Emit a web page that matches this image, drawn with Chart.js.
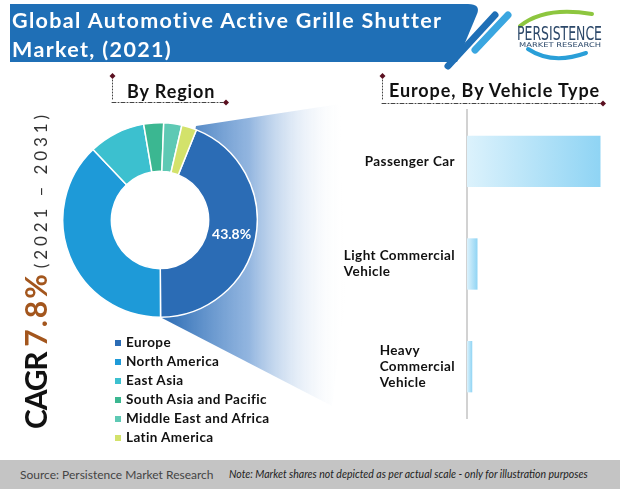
<!DOCTYPE html>
<html>
<head>
<meta charset="utf-8">
<script src="https://cdn.jsdelivr.net/npm/chart.js@4/dist/chart.umd.min.js"></script>
<style>
  html, body { margin:0; padding:0; background:#fff; }
  #root { position:relative; width:620px; height:489px; overflow:hidden; background:#fff; font-family: Lato, "Open Sans", sans-serif; }
  #bg { position:absolute; left:0; top:0; }
  .abs { position:absolute; white-space:nowrap; }
  #title { left:12px; top:6px; color:#fff; font-weight:700; font-size:21.5px; letter-spacing:1.35px; line-height:29px; }
  .hdr { font-weight:700; font-size:18px; letter-spacing:0.9px; color:#111; line-height:20px; }
  #cagr { left:17px; top:429px; transform-origin:0 0; transform:rotate(-90deg); line-height:36px; color:#111; }
  #cagr .big { font-weight:700; font-size:30px; letter-spacing:-1.2px; }
  #cagr .pct { font-weight:700; font-size:30px; letter-spacing:2px; color:#a3561d; margin-left:6px; }
  #cagr .small { font-size:17px; letter-spacing:3.9px; color:#333; margin-left:4px; }
  #legend { left:115px; top:333px; }
  .li { height:19px; line-height:19px; font-weight:700; font-size:13.5px; letter-spacing:0.4px; color:#111; display:flex; align-items:center; }
  .sq { width:6px; height:6px; margin-right:5px; display:inline-block; }
  #footer { left:0; top:460px; width:620px; height:29px; background:#c4c4c4; }
  #src { left:20px; top:467px; font-size:12px; color:#444; line-height:16px; }
  #note { left:229px; top:467px; font-size:10.5px; font-style:italic; color:#222; line-height:15px; }
  #donutWrap { position:absolute; left:62px; top:122px; width:196px; height:196px; }
  #barWrap { position:absolute; left:330px; top:100px; width:290px; height:330px; }
</style>
</head>
<body>
<div id="root">
  <canvas id="bg" width="620" height="489"></canvas>
  <div id="title" class="abs">Global Automotive Active Grille Shutter<br>Market, (2021)</div>
  <div class="abs hdr" style="left:127px; top:81px;">By Region</div>
  <div class="abs hdr" style="left:389px; top:80px;">Europe, By Vehicle Type</div>
  <div id="cagr" class="abs"><span class="big">CAGR</span><span class="pct">7.8%</span><span class="small">(2021 – 2031)</span></div>
  <div id="donutWrap"><canvas id="donut"></canvas></div>
  <div id="barWrap"><canvas id="bar"></canvas></div>
  <div id="legend" class="abs"></div>
  <div id="footer" class="abs"></div>
  <div id="src" class="abs">Source: Persistence Market Research</div>
  <div id="note" class="abs">Note: Market shares not depicted as per actual scale - only for illustration purposes</div>
</div>
<script>
// ---------- data ----------
const regionLabels = ['Europe', 'North America', 'East Asia', 'South Asia and Pacific', 'Middle East and Africa', 'Latin America'];
const regionShares = [43.8, 38.0, 9.4, 3.3, 3.0, 2.5];
const regionColors = ['#2b6cb5', '#1e9ad8', '#3cc0cf', '#3bb791', '#5ec9b4', '#d3e26b'];
const labeledShare = '43.8%';

const vehicleLabels = [['Passenger Car'], ['Light Commercial', 'Vehicle'], ['Heavy', 'Commercial', 'Vehicle']];
const europeVehicleShares = [89, 7, 3.5];

// ---------- background decoration ----------
(function () {
  const c = document.getElementById('bg');
  const ctx = c.getContext('2d');

  // funnel gradient from the Europe slice
  const g = ctx.createLinearGradient(170, 0, 345, 0);
  g.addColorStop(0, 'rgba(43,108,181,0.95)');
  g.addColorStop(0.45, 'rgba(100,150,210,0.7)');
  g.addColorStop(1, 'rgba(255,255,255,0)');
  ctx.fillStyle = g;
  ctx.beginPath();
  ctx.moveTo(196, 126);
  ctx.lineTo(340, 104);
  ctx.lineTo(345, 300);
  ctx.lineTo(332, 406);
  ctx.lineTo(160, 317);
  ctx.closePath();
  ctx.fill();
  // keep the doughnut hole white
  ctx.fillStyle = '#fff';
  ctx.beginPath(); ctx.arc(160, 220, 50, 0, Math.PI * 2); ctx.fill();

  // title banner
  ctx.fillStyle = '#1f6fb6';
  ctx.beginPath();
  ctx.moveTo(10, 4);
  ctx.lineTo(468, 4);
  ctx.quadraticCurveTo(481, 4, 477, 14);
  ctx.lineTo(457, 62);
  ctx.lineTo(10, 62);
  ctx.closePath();
  ctx.fill();

  // stripes
  ctx.lineCap = 'round';
  ctx.strokeStyle = '#1f6fb6';
  ctx.lineWidth = 7;
  ctx.beginPath(); ctx.moveTo(495, 15); ctx.lineTo(448, 66); ctx.stroke();
  ctx.strokeStyle = '#3aa6e0';
  ctx.beginPath(); ctx.moveTo(508, 15); ctx.lineTo(475, 50); ctx.stroke();

  // logo
  ctx.strokeStyle = '#8dc63f';
  ctx.lineWidth = 4;
  ctx.beginPath(); ctx.moveTo(520, 26); ctx.quadraticCurveTo(545, 6, 592, 14); ctx.stroke();
  ctx.strokeStyle = '#2a9fd8';
  ctx.beginPath(); ctx.moveTo(528, 49); ctx.quadraticCurveTo(552, 65, 586, 53); ctx.stroke();
  function fitText(txt, x, y, w, font, color) {
    ctx.save();
    ctx.font = font;
    ctx.fillStyle = color;
    ctx.textBaseline = 'alphabetic';
    const m = ctx.measureText(txt).width;
    ctx.translate(x, y);
    ctx.scale(w / m, 1);
    ctx.fillText(txt, 0, 0);
    ctx.restore();
  }
  fitText('PERSISTENCE', 517, 40, 85, '19px "DejaVu Sans"', '#2c4869');
  fitText('MARKET RESEARCH', 519, 47, 82, '6.5px "DejaVu Sans"', '#2c4869');

  // header decorations
  function diamond(x, y) {
    ctx.fillStyle = '#5a1020';
    ctx.beginPath();
    ctx.moveTo(x, y - 3); ctx.lineTo(x + 3, y); ctx.lineTo(x, y + 3); ctx.lineTo(x - 3, y);
    ctx.closePath(); ctx.fill();
  }
  function deco(x0, x1, yTop, yLine) {
    ctx.save();
    ctx.strokeStyle = '#444';
    ctx.lineWidth = 1;
    ctx.setLineDash([1, 2]);
    ctx.beginPath(); ctx.moveTo(x0 + 0.5, yTop + 4); ctx.lineTo(x0 + 0.5, yLine - 3); ctx.stroke();
    ctx.setLineDash([4, 2, 1, 2]);
    ctx.beginPath(); ctx.moveTo(x0, yLine + 0.5); ctx.lineTo(x1 - 3, yLine + 0.5); ctx.stroke();
    ctx.restore();
    diamond(x0 + 0.5, yTop);
    diamond(x1, yLine + 0.5);
  }
  deco(112, 226, 76, 102);
  deco(382, 603, 76, 103);
})();

// ---------- legend ----------
(function () {
  const lg = document.getElementById('legend');
  regionLabels.forEach((l, i) => {
    const d = document.createElement('div');
    d.className = 'li';
    d.innerHTML = '<span class="sq" style="background:' + regionColors[i] + '"></span>' + l;
    lg.appendChild(d);
  });
})();

// ---------- doughnut ----------
const sliceLabel = {
  id: 'sliceLabel',
  afterDatasetsDraw(chart) {
    const arc = chart.getDatasetMeta(0).data[0];
    const p = arc.tooltipPosition();
    const ctx = chart.ctx;
    ctx.save();
    ctx.font = 'bold 14px Lato';
    ctx.fillStyle = '#fff';
    ctx.textAlign = 'center';
    ctx.textBaseline = 'middle';
    ctx.fillText(labeledShare, p.x, p.y + 1);
    ctx.restore();
  }
};
new Chart(document.getElementById('donut'), {
  type: 'doughnut',
  data: {
    labels: regionLabels,
    datasets: [{
      data: regionShares,
      backgroundColor: regionColors,
      borderColor: '#ffffff',
      borderWidth: 1.5
    }]
  },
  options: {
    responsive: true,
    maintainAspectRatio: false,
    animation: false,
    rotation: 22,
    cutout: '50%',
    layout: { padding: 0 },
    plugins: { legend: { display: false }, tooltip: { enabled: false } },
    events: []
  },
  plugins: [sliceLabel]
});

// ---------- bar ----------
const catLabels = {
  id: 'catLabels',
  afterDraw(chart) {
    const ys = chart.scales.y, xs = chart.scales.x;
    const ctx = chart.ctx;
    ctx.save();
    ctx.font = 'bold 13.5px Lato';
    ctx.letterSpacing = '0.4px';
    ctx.fillStyle = '#111';
    ctx.textAlign = 'left';
    ctx.textBaseline = 'middle';
    const lh = 16;
    vehicleLabels.forEach((lines, i) => {
      const y = ys.getPixelForValue(i);
      const w = Math.max(...lines.map(s => ctx.measureText(s).width));
      const x0 = xs.left - 12 - w;
      lines.forEach((s, k) => {
        ctx.fillText(s, x0, y - (lines.length - 1) * lh / 2 + k * lh);
      });
    });
    ctx.restore();
  }
};
new Chart(document.getElementById('bar'), {
  type: 'bar',
  data: {
    labels: vehicleLabels,
    datasets: [{
      data: europeVehicleShares,
      borderWidth: 0,
      backgroundColor(ctx) {
        const chart = ctx.chart;
        const xs = chart.scales.x;
        if (!xs || ctx.raw === undefined) return '#a9def5';
        const x0 = xs.getPixelForValue(0);
        const x1 = xs.getPixelForValue(ctx.raw);
        if (!isFinite(x0) || !isFinite(x1)) return '#a9def5';
        const g = chart.ctx.createLinearGradient(x0, 0, Math.max(x1, x0 + 1), 0);
        g.addColorStop(0, '#dcf2fc');
        g.addColorStop(1, '#8fd4f4');
        return g;
      }
    }]
  },
  options: {
    indexAxis: 'y',
    responsive: true,
    maintainAspectRatio: false,
    animation: false,
    events: [],
    layout: { padding: { left: 137, top: 10, bottom: 12, right: 3 } },
    plugins: { legend: { display: false }, tooltip: { enabled: false } },
    scales: {
      x: { display: false, min: 0, max: 100 },
      y: {
        ticks: { display: false },
        grid: { display: false, drawTicks: false },
        border: { display: true, color: '#d2d2d2', width: 2 }
      }
    },
    datasets: { bar: { categoryPercentage: 1, barPercentage: 0.5 } }
  },
  plugins: [catLabels]
});
</script>
</body>
</html>
